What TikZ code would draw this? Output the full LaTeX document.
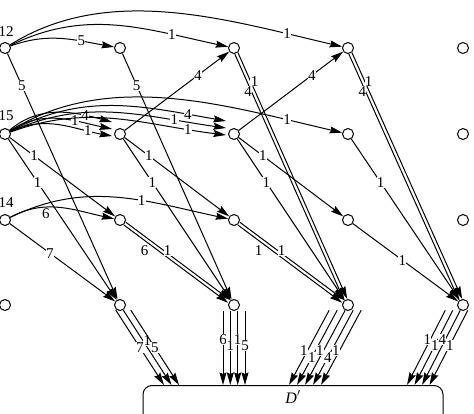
\documentclass[tikz,border=0pt]{standalone}
\usepackage{fontspec}
\setmainfont{Liberation Serif}
\usetikzlibrary{arrows.meta,backgrounds}
\begin{document}
\begin{tikzpicture}[x=1pt,y=1pt,
  vtx/.style={circle,draw,fill=white,minimum size=11pt,inner sep=0pt,line width=1pt},
  arr/.style={line width=1pt,-{Stealth[length=12.5pt,width=7pt,inset=1.5pt]}},
  lab/.style={fill=white,inner sep=0.3pt,font=\fontsize{15}{15}\selectfont},
  supply/.style={inner sep=0pt,font=\fontsize{15}{15}\selectfont},
  sink/.style={draw,rounded corners=9pt,line width=1pt,minimum width=300pt,minimum height=55pt,anchor=north}]
\useasboundingbox (0,0) rectangle (474,-413);
\clip (0,0) rectangle (474,-413);
% vertices
\foreach \c/\x in {0/5,1/120,2/234,3/348,4/463}
  \foreach \r/\y in {0/-48,1/-134,2/-220,3/-305}
    \node[vtx] (n\c\r) at (\x,\y) {};
\node[supply] (s12) at (6,-32) {12};
\node[supply] (s15) at (6,-116) {15};
\node[supply] (s14) at (6,-203) {14};
% sink
\node[sink] (D) at (293,-385) {};
\node[font=\fontsize{16}{16}\selectfont] (Dl) at (293,-397) {\textit{D}$'$};
\coordinate (e1) at (171.5,-385);
\coordinate (e2) at (234,-385);
\coordinate (e3) at (305,-385);
\coordinate (e4) at (422,-385);
\coordinate (a1) at (112,-122);
\coordinate (a2) at (112,-129);
\coordinate (a3) at (112,-136);
\coordinate (b1) at (226,-121);
\coordinate (b2) at (226,-128);
\coordinate (b3) at (226,-135);
\begin{scope}[on background layer]
% from 12
\draw[arr] (n00) to[out=20,in=170] node[lab,pos=.7]{5} (n10);
\draw[arr] (n00) to[out=26,in=168] node[lab,pos=.76]{1} (n20);
\draw[arr] (n00) to[out=32,in=167,looseness=.9] node[lab,pos=.84]{1} (n30);
\draw[arr] (n00) -- node[lab,pos=.13]{5} (n13);
% from 15
\draw[arr] (n01) to[out=40,in=165] node[lab,pos=.76]{4} (a1);
\draw[arr] (n01) to[out=33,in=168] node[lab,pos=.66]{1} (a2);
\draw[arr] (n01) to[out=25,in=170] node[lab,pos=.78]{1} (a3);
\draw[arr] (n01) to[out=28,in=170] node[lab,pos=.84]{4} (b1);
\draw[arr] (n01) to[out=24,in=172] node[lab,pos=.78]{1} (b2);
\draw[arr] (n01) to[out=20,in=173] node[lab,pos=.84]{1} (b3);
\draw[arr] (n01) to[out=32,in=167,looseness=.9] node[lab,pos=.84]{1} (n31);
\draw[arr] (n01) -- node[lab,pos=.23]{1} (n12);
\draw[arr] (n01) -- node[lab,pos=.27]{1} (n13);
% from 14
\draw[arr] (n02) to[out=28,in=168] node[anchor=north,inner sep=0.3pt,font=\fontsize{15}{15}\selectfont,pos=.35,yshift=-1pt]{6} (n12);
\draw[arr] (n02) to[out=26,in=168] node[lab,pos=.62]{1} (n22);
\draw[arr] (n02) -- node[lab,pos=.38]{7} (n13);
% middle
\draw[arr] (n10) -- node[lab,pos=.13]{5} (n23);
\draw[arr] (n11) -- node[lab,pos=.70]{4} (n20);
\draw[arr] (n11) -- node[lab,pos=.23]{1} (n22);
\draw[arr] (n11) -- node[lab,pos=.27]{1} (n23);
\draw[arr] (n21) -- node[lab,pos=.70]{4} (n30);
\draw[arr] (n21) -- node[lab,pos=.23]{1} (n32);
\draw[arr] (n21) -- node[lab,pos=.27]{1} (n33);
\draw[arr] (n31) -- node[lab,pos=.27]{1} (n43);
\draw[arr] (n32) -- node[lab,pos=.47]{1} (n43);
% double lines
\draw[arr,transform canvas={shift={(-1.56,-0.69)}}] (n20) -- node[lab,pos=.15,xshift=-3pt]{4} (n33);
\draw[arr,transform canvas={shift={(1.56,0.69)}}] (n20) -- node[lab,pos=.115,xshift=4pt]{1} (n33);
\draw[arr,transform canvas={shift={(-1.56,-0.69)}}] (n30) -- node[lab,pos=.15,xshift=-3pt]{4} (n43);
\draw[arr,transform canvas={shift={(1.56,0.69)}}] (n30) -- node[lab,pos=.115,xshift=4pt]{1} (n43);
\draw[arr,transform canvas={shift={(-1.02,-1.36)}}] (n12) -- node[lab,pos=.2,yshift=-10pt]{6} (n23);
\draw[arr,transform canvas={shift={(1.02,1.36)}}] (n12) -- node[lab,pos=.4,yshift=3pt]{1} (n23);
\draw[arr,transform canvas={shift={(-1.02,-1.36)}}] (n22) -- node[lab,pos=.2,yshift=-10pt]{1} (n33);
\draw[arr,transform canvas={shift={(1.02,1.36)}}] (n22) -- node[lab,pos=.4,yshift=3pt]{1} (n33);
% bundles into D'
\foreach \o/\l/\s in {-7.5/7/0, 0/1/7, 7.5/5/0}
  \draw[arr,transform canvas={xshift=\o pt}] (n13) -- node[lab,pos=.5,yshift=\s pt]{\l} (e1);
\foreach \o/\l/\s in {-11/6/6, -3.7/1/0, 3.7/1/6, 11/5/0}
  \draw[arr,transform canvas={xshift=\o pt}] (n23) -- node[lab,pos=.467,yshift=\s pt]{\l} (e2);
\foreach \o/\l/\s in {-16/1/7, -8/1/0, 0/1/7, 8/4/0, 16/1/7}
  \draw[arr,transform canvas={xshift=\o pt}] (n33) -- node[lab,pos=.63,yshift=\s pt]{\l} (e3);
\foreach \o/\l/\s in {-15/1/6, -7.5/1/0, 0/4/6, 7.5/1/0}
  \draw[arr,transform canvas={xshift=\o pt}] (n43) -- node[lab,pos=.47,yshift=\s pt]{\l} (e4);
\end{scope}
\end{tikzpicture}
\end{document}
